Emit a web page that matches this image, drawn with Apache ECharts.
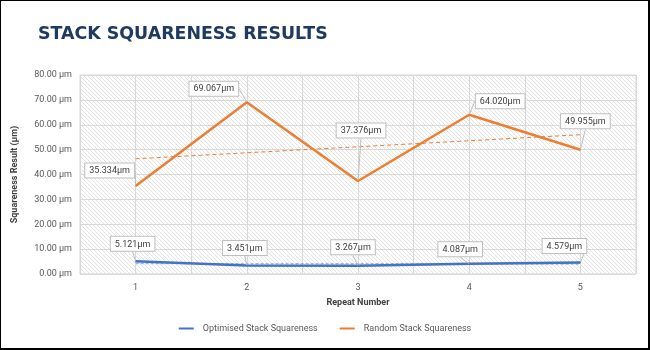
<!DOCTYPE html>
<html><head><meta charset="utf-8">
<script src="https://cdn.jsdelivr.net/npm/echarts@6/dist/echarts.min.js"></script>
<style>html,body{margin:0;padding:0;background:#fff}
#frame{position:absolute;left:0;top:0;width:647px;height:347px;border:1px solid #000;border-right-width:2px;border-bottom-width:2px;}
#c{position:absolute;left:0;top:0;width:650px;height:350px}</style>
</head><body><div id="c"></div><div id="frame"></div>
<script>
const categories = [1, 2, 3, 4, 5];
const optimised = [5.121, 3.451, 3.267, 4.087, 4.579];
const random = [35.334, 69.067, 37.376, 64.020, 49.955];
const yTicks = [0, 10, 20, 30, 40, 50, 60, 70, 80];
// label centre offsets from point (px)
const randomLabelOffsets = [[-26,-16],[-33,-14],[3,-51],[31,-14],[5,-29]];
const optimisedLabelOffsets = [[-3,-18],[-2,-18],[-5,-19],[-9,-15],[-16,-17]];

function trend(vals){
  const n = vals.length;
  const xs = categories;
  const mx = xs.reduce((a,b)=>a+b,0)/n, my = vals.reduce((a,b)=>a+b,0)/n;
  let sxy=0,sxx=0;
  for(let i=0;i<n;i++){sxy+=(xs[i]-mx)*(vals[i]-my);sxx+=(xs[i]-mx)*(xs[i]-mx);}
  const b=sxy/sxx,a=my-b*mx;
  return xs.map(x=>[x,a+b*x]);
}
function pairs(vals){return categories.map((c,i)=>[c,vals[i]]);}

const pc = document.createElement('canvas');
pc.width=4;pc.height=4;
const pctx=pc.getContext('2d');
pctx.fillStyle='#fff';pctx.fillRect(0,0,4,4);
pctx.fillStyle='#e4e4e4';
for(let i=0;i<4;i++){pctx.fillRect(i,i,1,1);}

const FONT='Roboto';
function labelCfg(){
  return {show:true,position:'top',distance:5,fontFamily:FONT,fontSize:9,color:'#404040',
    backgroundColor:'#fff',borderColor:'#bfbfbf',borderWidth:1,padding:[3,4,2,4],
    formatter:p=>p.value[1].toFixed(3)+'µm'};
}
function layoutFor(offs){
  return function(p){
    const o=offs[p.dataIndex];
    const h=p.labelRect.height;
    return {dx:o[0],dy:o[1]+5+h/2};
  };
}

const chart = echarts.init(document.getElementById('c'),null,{renderer:'canvas'});
chart.setOption({
  animation:false,
  title:{text:'STACK SQUARENESS RESULTS',left:33,top:21,
    textStyle:{fontFamily:'DejaVu Sans',fontWeight:'bold',fontSize:17.4,color:'#1f3a60'}},
  grid:{left:80,right:14,top:75,bottom:76,show:true,backgroundColor:{image:pc,repeat:'repeat'},borderColor:'#d9d9d9',borderWidth:1},
  legend:{data:['Optimised Stack Squareness','Random Stack Squareness'],bottom:12,left:'center',
    icon:'rect',itemWidth:15,itemHeight:2,itemGap:22,
    textStyle:{fontFamily:FONT,fontSize:9,color:'#595959',padding:[0,0,0,4]}},
  xAxis:{type:'value',min:0.5,max:5.5,interval:0.5,
    name:'Repeat Number',nameLocation:'middle',nameGap:24,
    nameTextStyle:{fontFamily:FONT,fontSize:9,fontWeight:'bold',color:'#404040'},
    axisLine:{show:false},axisTick:{show:false},
    axisLabel:{margin:9,fontFamily:FONT,fontSize:9,color:'#595959',
      formatter:v=>categories.includes(v)?String(v):''},
    splitLine:{show:true,lineStyle:{color:'#d9d9d9',width:1}}},
  yAxis:{type:'value',min:yTicks[0],max:yTicks[yTicks.length-1],interval:yTicks[1]-yTicks[0],
    name:'Squareness Result (µm)',nameLocation:'middle',nameGap:61,
    nameTextStyle:{fontFamily:FONT,fontSize:9,fontWeight:'bold',color:'#404040'},
    axisLine:{show:false},axisTick:{show:false},
    axisLabel:{margin:8,fontFamily:FONT,fontSize:9,color:'#595959',formatter:v=>v.toFixed(2)+' µm'},
    splitLine:{show:true,lineStyle:{color:'#d9d9d9',width:1}}},
  series:[
    {name:'Optimised Stack Squareness trend',type:'line',data:trend(optimised),symbol:'none',silent:true,
      lineStyle:{color:'#9db3e0',width:1.5,type:[3,2]},z:3},
    {name:'Random Stack Squareness trend',type:'line',data:trend(random),symbol:'none',silent:true,
      lineStyle:{color:'#ed7d31',width:1,type:[4,3]},z:3},
    {name:'Optimised Stack Squareness',type:'line',data:pairs(optimised),symbol:'circle',symbolSize:1,
      itemStyle:{color:'#4472c4'},lineStyle:{color:'#4472c4',width:2.5},
      label:labelCfg(),labelLayout:layoutFor(optimisedLabelOffsets),
      labelLine:{show:true,lineStyle:{color:'#bfbfbf',width:1}},z:4},
    {name:'Random Stack Squareness',type:'line',data:pairs(random),symbol:'circle',symbolSize:1,
      itemStyle:{color:'#ed7d31'},lineStyle:{color:'#ed7d31',width:2.5},
      label:labelCfg(),labelLayout:layoutFor(randomLabelOffsets),
      labelLine:{show:true,lineStyle:{color:'#bfbfbf',width:1}},z:4}
  ]
});
</script></body></html>
